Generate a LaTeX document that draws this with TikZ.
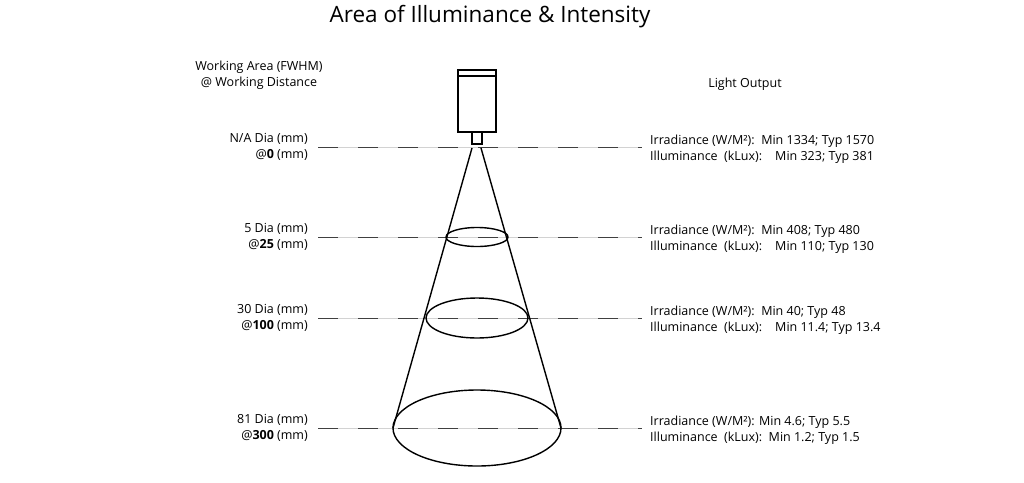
\documentclass[tikz,border=0pt]{standalone}
\usepackage{fontspec}
\setmainfont{Open Sans}
\begin{document}
\begin{tikzpicture}[x=1pt,y=-1pt,
  lbl/.style={font=\fontsize{12.5}{16}\selectfont,inner sep=0pt},
  lft/.style={lbl,anchor=east,align=right},
  rgt/.style={lbl,anchor=west,align=left},
  shp/.style={line width=1.4pt,black}]
\useasboundingbox (0,0) rectangle (1024,482);
\node[font=\fontsize{22.5}{26}\selectfont,inner sep=0pt] (title) at (490,17) {Area of Illuminance \& Intensity};
\node[lbl,align=center] (wa) at (259,75) {Working Area (FWHM)\\@ Working Distance};
\node[lbl] (lo) at (745,84) {Light Output};
\foreach \y/\n in {147/a,237/b,318/c,428/d}{
  \coordinate (l\n) at (318,\y); \coordinate (r\n) at (642,\y);
  \draw[gray!35,line width=0.8pt] (l\n) -- (r\n);
  \draw[black!75,line width=1pt,dash pattern=on 20pt off 20pt] (l\n) -- (r\n);
}
\node[lft] (ta) at (308,147) {N/A Dia (mm)\\@\textbf{0} (mm)};
\node[lft] (tb) at (308,237) {5 Dia (mm)\\@\textbf{25} (mm)};
\node[lft] (tc) at (308,318) {30 Dia (mm)\\@\textbf{100} (mm)};
\node[lft] (td) at (308,428) {81 Dia (mm)\\@\textbf{300} (mm)};
\node[rgt] (ra) at (650,149) {Irradiance (W/M²):\ \ Min 1334; Typ 1570\\Illuminance\ \ (kLux):\ \ \ \ Min 323; Typ 381};
\node[rgt] (rb) at (650,239) {Irradiance (W/M²):\ \ Min 408; Typ 480\\Illuminance\ \ (kLux):\ \ \ \ Min 110; Typ 130};
\node[rgt] (rc) at (650,320) {Irradiance (W/M²):\ \ Min 40; Typ 48\\Illuminance\ \ (kLux):\ \ \ \ Min 11.4; Typ 13.4};
\node[rgt] (rd) at (650,430) {Irradiance (W/M²): Min 4.6; Typ 5.5\\Illuminance\ \ (kLux):\ \ Min 1.2; Typ 1.5};
% device
\draw[shp,line width=1.1pt] (458,70) rectangle (496,132);
\draw[shp,line width=1.1pt] (458,76) -- (496,76);
\draw[shp,line width=1.1pt] (472,132) rectangle (482,144);
% cone
\draw[shp] (472,148) -- (393,428);
\draw[shp] (481,148) -- (561,428);
\draw[shp] (477,237) ellipse [x radius=31,y radius=9.5];
\draw[shp] (477,318) ellipse [x radius=51,y radius=20];
\draw[shp] (477,428) ellipse [x radius=84,y radius=38];
\end{tikzpicture}
\end{document}
